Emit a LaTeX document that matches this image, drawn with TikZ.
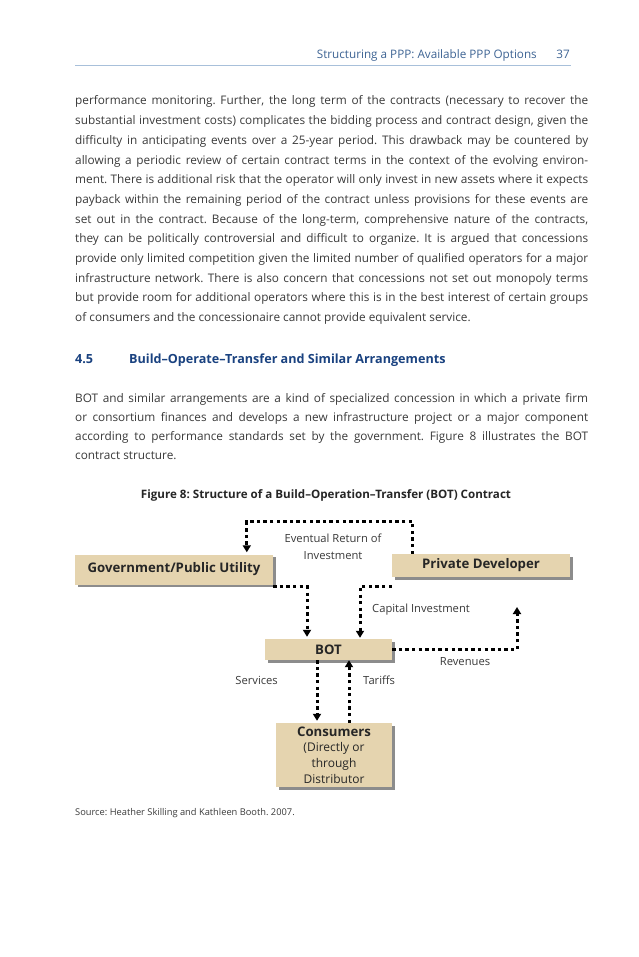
\documentclass[tikz,border=0pt]{standalone}
\usepackage{fontspec}
\setmainfont{Open Sans}
\usetikzlibrary{arrows.meta,shadows}
\definecolor{bodygray}{RGB}{58,58,58}
\definecolor{headblue}{RGB}{62,100,148}
\definecolor{ruleblue}{RGB}{168,192,218}
\definecolor{secblue}{RGB}{26,66,128}
\definecolor{parchment}{RGB}{229,212,175}
\newcommand\fullline[1]{\hbox to 513pt{#1}}
\frenchspacing
\tikzset{
  bodytext/.style = {anchor=base west, inner sep=0pt, text=bodygray,
    font=\fontsize{11.8}{19.7}\selectfont},
  party/.style = {fill=parchment, inner sep=0pt, text=black!85,
    font=\bfseries\fontsize{13.2}{15.7}\selectfont,
    drop shadow={shadow xshift=2.5pt, shadow yshift=-2.5pt, fill=black!45, opacity=1}},
  flow/.style = {line width=3pt, dash pattern=on 3.3pt off 3.3pt,
    -{Triangle[width=8pt,length=7pt]}},
  flowlabel/.style = {inner sep=0pt, text=bodygray, font=\fontsize{11.2}{17}\selectfont}
}

\begin{document}
\begin{tikzpicture}[x=1pt,y=-1pt]
  \useasboundingbox[fill=white] (0,0) rectangle (638,957);

  % running head
  \node[anchor=base east, inner sep=0pt, text=headblue, font=\fontsize{11.7}{12}\selectfont]
    (runhead) at (537,58.3) {Structuring a PPP: Available PPP Options};
  \node[anchor=base east, inner sep=0pt, text=headblue, font=\fontsize{11.7}{12}\selectfont]
    (pageno) at (570,58.3) {37};
  \draw[ruleblue, line width=0.9pt] (75,65.7) -- (570.7,65.7);

  % text before the section
  \node[bodytext] (partop) at (75,105) {\vtop{%
    \fullline{performance monitoring. Further, the long term of the contracts (necessary to recover the}
    \fullline{substantial investment costs) complicates the bidding process and contract design, given the}
    \fullline{difficulty in anticipating events over a 25-year period. This drawback may be countered by}
    \fullline{allowing a periodic review of certain contract terms in the context of the evolving environ-}
    \fullline{ment. There is additional risk that the operator will only invest in new assets where it expects}
    \fullline{payback within the remaining period of the contract unless provisions for these events are}
    \fullline{set out in the contract. Because of the long-term, comprehensive nature of the contracts,}
    \fullline{they can be politically controversial and difficult to organize. It is argued that concessions}
    \fullline{provide only limited competition given the limited number of qualified operators for a major}
    \fullline{infrastructure network. There is also concern that concessions not set out monopoly terms}
    \fullline{but provide room for additional operators where this is in the best interest of certain groups}
    \hbox{of consumers and the concessionaire cannot provide equivalent service.}}};

  % section 4.5
  \node[anchor=base west, inner sep=0pt, text=secblue, font=\bfseries\fontsize{12.6}{14}\selectfont]
    (secno) at (75,363) {4.5};
  \node[anchor=base west, inner sep=0pt, text=secblue, font=\bfseries\fontsize{12.6}{14}\selectfont]
    (sectitle) at (129,363) {Build–Operate–Transfer and Similar Arrangements};
  \node[bodytext] (parbot) at (75,402) {\vtop{\baselineskip=19.3pt
    \fullline{BOT and similar arrangements are a kind of specialized concession in which a private firm}
    \fullline{or consortium finances and develops a new infrastructure project or a major component}
    \fullline{according to performance standards set by the government. Figure 8 illustrates the BOT}
    \hbox{contract structure.}}};

  % figure 8
  \node[anchor=base, inner sep=0pt, text=black!85, font=\bfseries\fontsize{11.6}{13}\selectfont]
    (caption) at (326,498) {Figure 8: Structure of a Build–Operation–Transfer (BOT) Contract};

  \node[party, minimum width=198pt, minimum height=30pt] (gov) at (174,569.5) {Government/Public Utility};
  \node[party, minimum width=178pt, minimum height=23pt] (dev) at (481,565.5) {Private Developer};
  \node[party, minimum width=127pt, minimum height=21pt] (bot) at (328.5,649.5) {BOT};
  \node[party, minimum width=116pt, minimum height=64pt, align=center,
    font=\mdseries\fontsize{12}{15.7}\selectfont] (cons) at (334,755)
    {\textbf{\fontsize{13.2}{15.7}\selectfont Consumers}\\(Directly or\\through\\Distributor};

  \node[flowlabel, anchor=base, align=center] (lreturn) at (333,559) {Eventual Return of\\Investment};
  \node[flowlabel, anchor=base west] (lcapital) at (372,612) {Capital Investment};
  \node[flowlabel, anchor=base] (lrevenue) at (465,665) {Revenues};
  \node[flowlabel, anchor=base east] (lservice) at (278,684) {Services};
  \node[flowlabel, anchor=base west] (ltariff) at (363,684) {Tariffs};

  \coordinate (rettop) at (330,521.7);
  \coordinate (govout) at ([yshift=-2pt]gov.south east);
  \coordinate (revend) at (517,607);
  \coordinate (svc) at ([xshift=-11.5pt]bot.south);
  \coordinate (trf) at ([xshift=15pt]cons.north);

  \draw[flow] ([xshift=21pt]dev.north west) |- (rettop) -| ([xshift=172pt,yshift=2pt]gov.north west);
  \draw[flow] (govout) -| ([xshift=-21.5pt,yshift=2pt]bot.north);
  \draw[flow] (dev.south west |- govout) -| ([xshift=31.5pt,yshift=1pt]bot.north);
  \draw[flow] (bot.east) -| (revend);
  \draw[flow] (svc) -- ([yshift=2pt]svc |- cons.north);
  \draw[flow] (trf) -- (trf |- bot.south);

  \node[anchor=base west, inner sep=0pt, text=bodygray, font=\fontsize{9.3}{11}\selectfont]
    (source) at (75,815.7) {Source: Heather Skilling and Kathleen Booth. 2007.};
\end{tikzpicture}
\end{document}
